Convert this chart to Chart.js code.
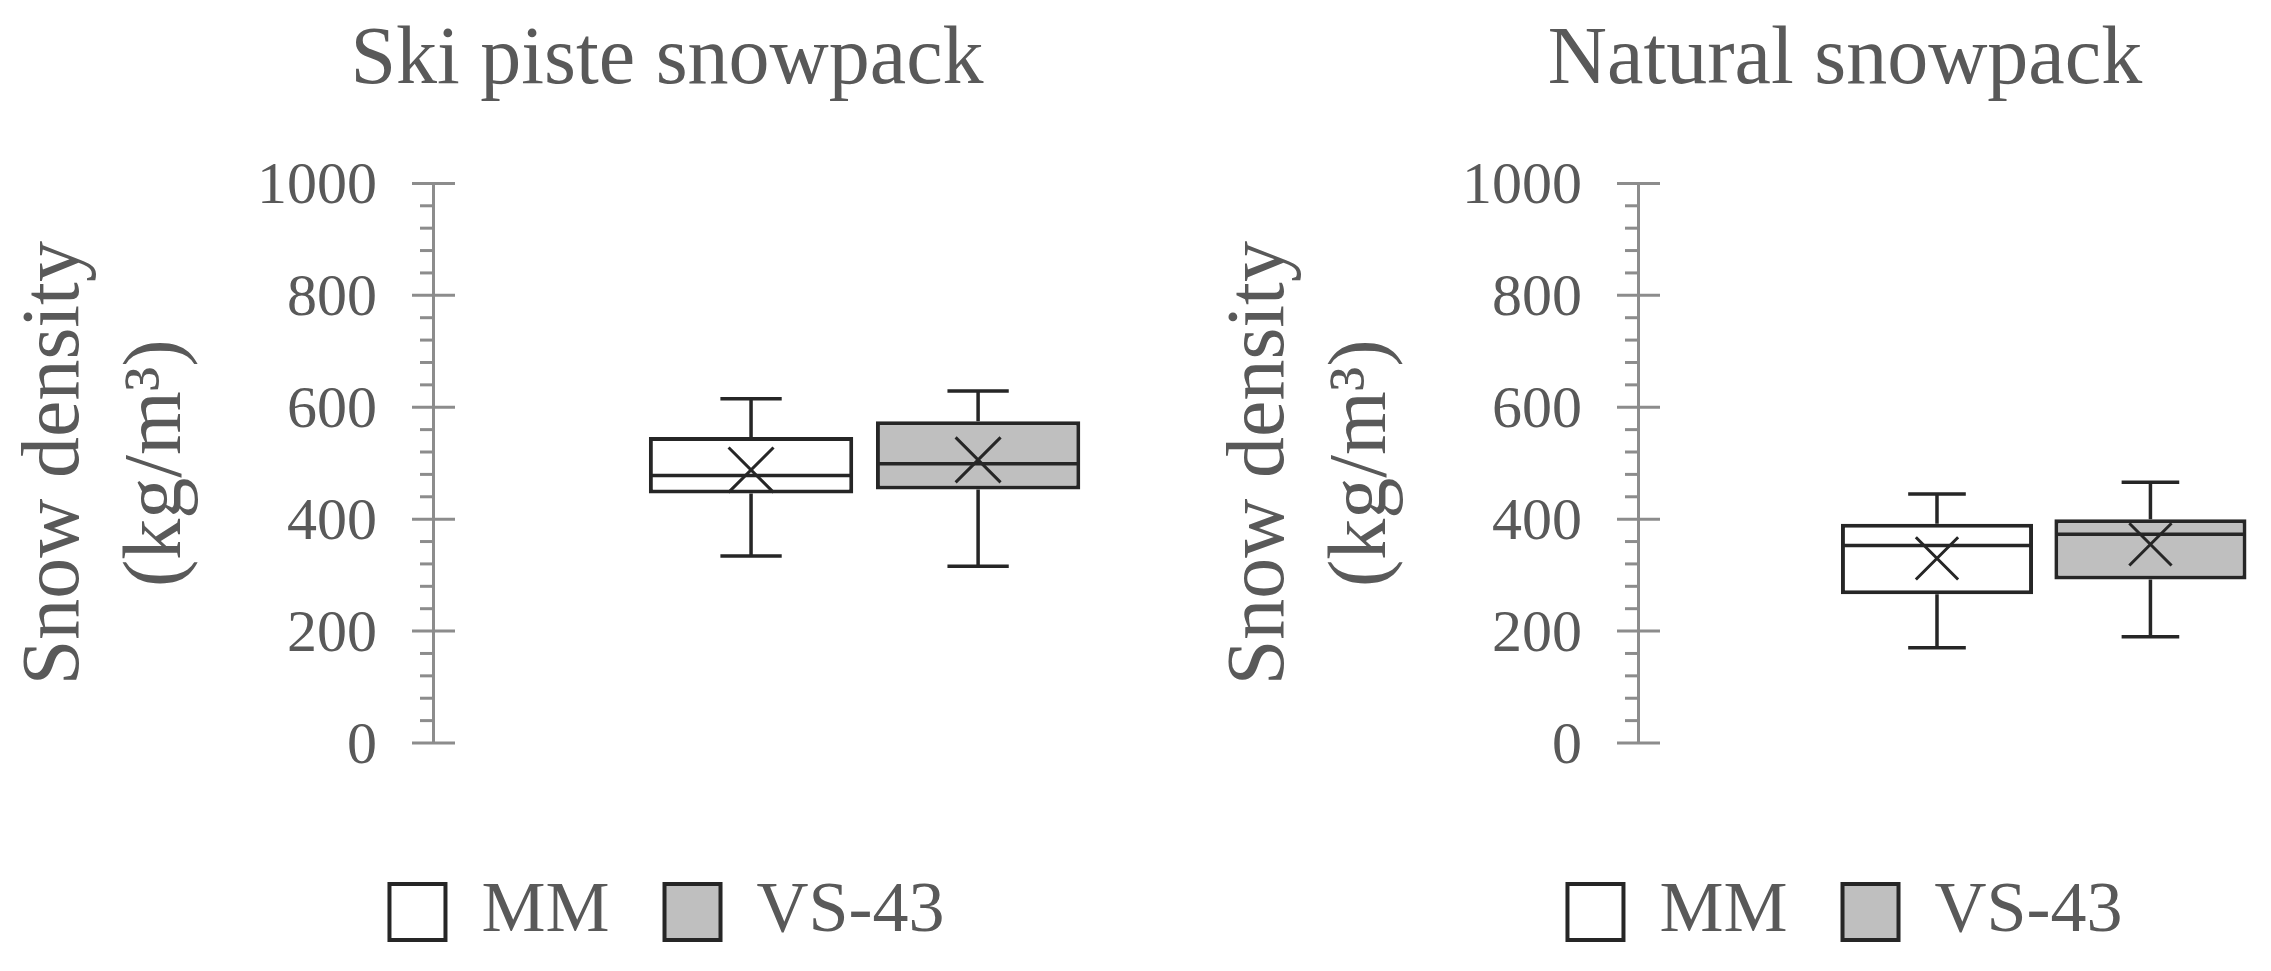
<!DOCTYPE html>
<html>
<head>
<meta charset="utf-8">
<title>Snow density</title>
<script src="https://cdn.jsdelivr.net/npm/chart.js@4.4.1/dist/chart.umd.min.js"></script>
<style>
  html, body { margin: 0; padding: 0; background: #fff; overflow: hidden; }
  body { width: 2271px; height: 971px; position: relative; }
  .panel { position: absolute; top: 0; height: 971px; }
  #ski { left: 0; width: 1334px; }
  #nat { left: 1205px; width: 1280px; }
</style>
</head>
<body>
<div class="panel" id="ski"><canvas id="skiChart"></canvas></div>
<div class="panel" id="nat"><canvas id="natChart"></canvas></div>
<script>
// values (kg/m3)
const groups = ['MM', 'VS-43'];

const skiMin = [334, 316];
const skiQ1 = [446, 453];
const skiMedian = [478, 499];
const skiQ3 = [547, 575];
const skiMax = [615, 629];
const skiMean = [488, 506];

const natMin = [170, 190];
const natQ1 = [266, 292];
const natMedian = [353, 373];
const natQ3 = [392, 400];
const natMax = [445, 466];
const natMean = [330, 355];

const yTickLabels = [0, 200, 400, 600, 800, 1000];
const yMinorStep = 40;

const fills = ['#ffffff', '#bfbfbf'];
const textGrey = '#595959';
const axisGrey = '#8c8c8c';
const ink = '#262626';

Chart.defaults.font.family = "'Liberation Serif', 'Times New Roman', serif";
Chart.defaults.color = textGrey;

// whiskers, median and mean cross on top of the floating bars
const boxExtras = {
    id: 'boxExtras',
    afterDatasetsDraw(chart, args, opts) {
        const { ctx } = chart;
        const y = chart.scales.y;
        ctx.save();
        ctx.strokeStyle = ink;
        chart.data.datasets.forEach((ds, i) => {
            const bar = chart.getDatasetMeta(i).data[0];
            const { x, width } = bar.getProps(['x', 'width'], true);
            const cap = width * 0.15;
            const top = y.getPixelForValue(opts.q3[i]);
            const bottom = y.getPixelForValue(opts.q1[i]);
            const yMax = y.getPixelForValue(opts.max[i]);
            const yMin = y.getPixelForValue(opts.min[i]);
            const yMed = y.getPixelForValue(opts.median[i]);
            const yMean = y.getPixelForValue(opts.mean[i]);

            ctx.lineWidth = 3.5;
            ctx.beginPath();
            ctx.moveTo(x, top); ctx.lineTo(x, yMax);
            ctx.moveTo(x - cap, yMax); ctx.lineTo(x + cap, yMax);
            ctx.moveTo(x, bottom); ctx.lineTo(x, yMin);
            ctx.moveTo(x - cap, yMin); ctx.lineTo(x + cap, yMin);
            ctx.moveTo(x - width / 2 + 2, yMed); ctx.lineTo(x + width / 2 - 2, yMed);
            ctx.stroke();

            const m = width * 0.11;
            ctx.lineWidth = 3;
            ctx.beginPath();
            ctx.moveTo(x - m, yMean - m); ctx.lineTo(x + m, yMean + m);
            ctx.moveTo(x - m, yMean + m); ctx.lineTo(x + m, yMean - m);
            ctx.stroke();
        });
        ctx.restore();
    }
};

// major ticks cross the axis, minor ticks only on the outside
const axisTicks = {
    id: 'axisTicks',
    afterDraw(chart) {
        const { ctx } = chart;
        const s = chart.scales.y;
        const x0 = s.right;
        ctx.save();
        ctx.strokeStyle = axisGrey;
        ctx.lineWidth = 3;
        s.ticks.forEach((t, i) => {
            const py = s.getPixelForTick(i);
            const major = yTickLabels.includes(t.value);
            ctx.beginPath();
            ctx.moveTo(x0 - (major ? 21 : 13), py);
            ctx.lineTo(x0 + (major ? 22 : 0), py);
            ctx.stroke();
        });
        ctx.restore();
    }
};

function makeChart(id, title, min, q1, median, q3, max, mean) {
    const datasets = groups.map((g, i) => ({
        label: g,
        data: [{ x: 0.479, y: [q1[i], q3[i]] }],
        backgroundColor: fills[i],
        borderColor: ink,
        borderWidth: 4,
        borderSkipped: false,
        categoryPercentage: 0.504,
        barPercentage: 0.9
    }));

    return new Chart(document.getElementById(id), {
        type: 'bar',
        data: { datasets },
        plugins: [boxExtras, axisTicks],
        options: {
            responsive: true,
            maintainAspectRatio: false,
            animation: false,
            layout: { padding: { bottom: 13 } },
            scales: {
                x: {
                    type: 'linear',
                    min: 0,
                    max: 1,
                    offset: false,
                    ticks: { display: false, stepSize: 1 },
                    grid: { display: false },
                    border: { display: false },
                    afterFit: s => { s.height = 78; }
                },
                y: {
                    min: 0,
                    max: 1000,
                    ticks: {
                        stepSize: yMinorStep,
                        autoSkip: false,
                        padding: 48,
                        labelOffset: 4,
                        color: textGrey,
                        font: { size: 60 },
                        callback: v => yTickLabels.includes(v) ? String(v) : ''
                    },
                    grid: { display: false },
                    border: { display: true, color: axisGrey, width: 3 },
                    title: {
                        display: true,
                        text: ['Snow density', '(kg/m³)'],
                        color: textGrey,
                        font: { size: 82, lineHeight: 1.24 },
                        padding: { top: 6, bottom: 0 }
                    },
                    afterFit: s => { s.width = 433; }
                }
            },
            plugins: {
                title: {
                    display: true,
                    text: title,
                    color: textGrey,
                    font: { size: 82, weight: 'normal', lineHeight: 1.2 },
                    padding: { top: 12, bottom: 73 }
                },
                legend: {
                    position: 'bottom',
                    labels: {
                        boxWidth: 56,
                        boxHeight: 56,
                        padding: 55,
                        color: textGrey,
                        font: { size: 72 }
                    }
                },
                tooltip: { enabled: false },
                boxExtras: { min, q1, median, q3, max, mean }
            }
        }
    });
}

makeChart('skiChart', 'Ski piste snowpack', skiMin, skiQ1, skiMedian, skiQ3, skiMax, skiMean);
makeChart('natChart', 'Natural snowpack', natMin, natQ1, natMedian, natQ3, natMax, natMean);
</script>
</body>
</html>
